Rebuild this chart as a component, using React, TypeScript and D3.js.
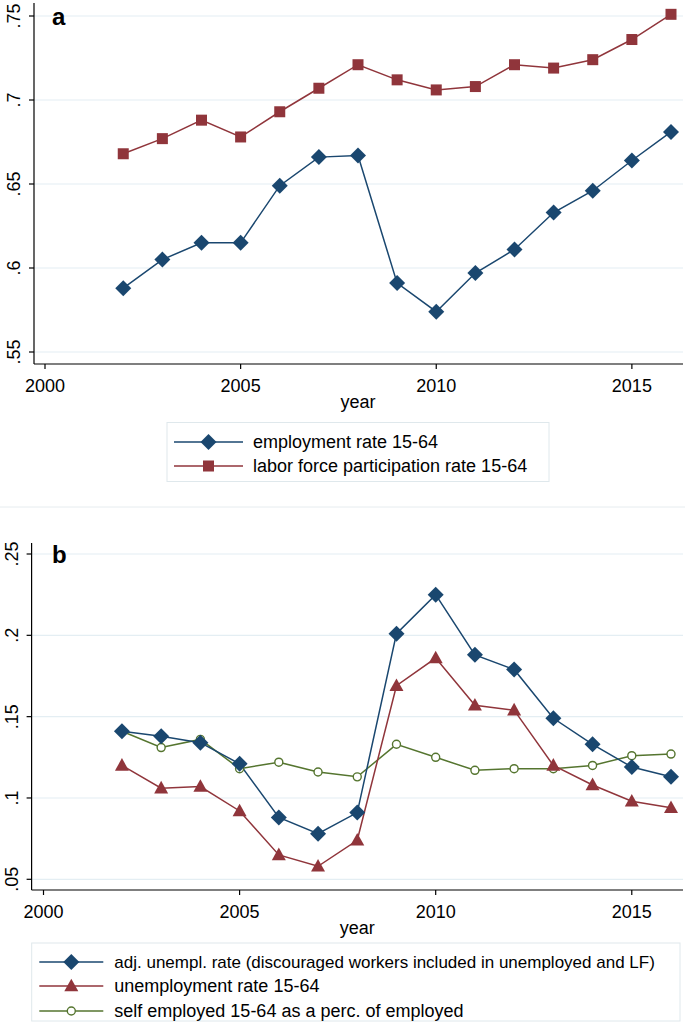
import * as d3 from "d3";
import { useEffect } from "react";

const years = [2002, 2003, 2004, 2005, 2006, 2007, 2008, 2009, 2010, 2011, 2012, 2013, 2014, 2015, 2016];
const employmentRate = [0.588, 0.605, 0.615, 0.615, 0.649, 0.666, 0.667, 0.591, 0.574, 0.597, 0.611, 0.633, 0.646, 0.664, 0.681];
const laborForceRate = [0.668, 0.677, 0.688, 0.678, 0.693, 0.707, 0.721, 0.712, 0.706, 0.708, 0.721, 0.719, 0.724, 0.736, 0.751];
const adjUnemplRate = [0.141, 0.138, 0.134, 0.121, 0.088, 0.078, 0.091, 0.201, 0.225, 0.188, 0.179, 0.149, 0.133, 0.119, 0.113];
const unemplRate = [0.120, 0.106, 0.107, 0.092, 0.065, 0.058, 0.074, 0.169, 0.186, 0.157, 0.154, 0.120, 0.108, 0.098, 0.094];
const selfEmployed = [0.141, 0.131, 0.136, 0.118, 0.122, 0.116, 0.113, 0.133, 0.125, 0.117, 0.118, 0.118, 0.120, 0.126, 0.127];

const xTicks = [2000, 2005, 2010, 2015];
const yTicksA = [0.55, 0.6, 0.65, 0.7, 0.75];
const yTicksB = [0.05, 0.1, 0.15, 0.2, 0.25];
const legendA = ["employment rate 15-64", "labor force participation rate 15-64"];
const legendB = [
  "adj. unempl. rate (discouraged workers included in unemployed and LF)",
  "unemployment rate 15-64",
  "self employed 15-64 as a perc. of employed",
];

const NAVY = "#1a476f";
const MAROON = "#90353b";
const GREEN = "#55752f";
const GRID = "#e4eef3";
const FONT = "'Liberation Sans', Arial, sans-serif";

const fmt = (v: number) => String(+v.toFixed(2)).replace(/^0/, "");

type Shape = "diamond" | "square" | "triangle" | "circle";

function Marker({ shape, x, y, color }: { shape: Shape; x: number; y: number; color: string }) {
  if (shape === "diamond") {
    const r = 8;
    return <path d={`M${x},${y - r}L${x + r},${y}L${x},${y + r}L${x - r},${y}Z`} fill={color} />;
  }
  if (shape === "square") {
    const r = 5.5;
    return <rect x={x - r} y={y - r} width={2 * r} height={2 * r} fill={color} />;
  }
  if (shape === "triangle") {
    const r = 7;
    return <path d={`M${x},${y - r * 1.05}L${x + r},${y + r * 0.75}L${x - r},${y + r * 0.75}Z`} fill={color} />;
  }
  return <circle cx={x} cy={y} r={4} fill="white" stroke={color} strokeWidth={1.4} />;
}

interface Series {
  values: number[];
  color: string;
  shape: Shape;
}

function Panel({
  label,
  xRange,
  yDomain,
  yRange,
  axisX,
  axisTop,
  axisBottom,
  yTicks,
  series,
  tickLabelY,
  yearY,
}: {
  label: string;
  xRange: [number, number];
  yDomain: [number, number];
  yRange: [number, number];
  axisX: number;
  axisTop: number;
  axisBottom: number;
  yTicks: number[];
  series: Series[];
  tickLabelY: number;
  yearY: number;
}) {
  const x = d3.scaleLinear().domain([2000, 2016]).range(xRange);
  const y = d3.scaleLinear().domain(yDomain).range(yRange);
  const right = 683;
  const line = d3
    .line<number>()
    .x((_, i) => x(years[i]))
    .y((d) => y(d));
  return (
    <g>
      {yTicks.map((t) => (
        <line key={"g" + t} x1={axisX} x2={right} y1={y(t)} y2={y(t)} stroke={GRID} strokeWidth={1.2} />
      ))}
      {series.map((s, k) => (
        <path key={"l" + k} d={line(s.values) ?? ""} fill="none" stroke={s.color} strokeWidth={1.5} />
      ))}
      {series.map((s, k) =>
        s.values.map((v, i) => <Marker key={`m${k}-${i}`} shape={s.shape} x={x(years[i])} y={y(v)} color={s.color} />)
      )}
      <line x1={axisX} x2={axisX} y1={axisTop} y2={axisBottom} stroke="#000" strokeWidth={1.2} />
      <line x1={axisX} x2={right} y1={axisBottom} y2={axisBottom} stroke="#000" strokeWidth={1.2} />
      {yTicks.map((t) => (
        <g key={"yt" + t}>
          <line x1={axisX - 5} x2={axisX} y1={y(t)} y2={y(t)} stroke="#000" strokeWidth={1.2} />
          <text
            transform={`translate(${axisX - 14},${y(t)}) rotate(-90)`}
            textAnchor="middle"
            fontSize={18}
            fontFamily={FONT}
          >
            {fmt(t)}
          </text>
        </g>
      ))}
      {xTicks.map((t) => (
        <g key={"xt" + t}>
          <line x1={x(t)} x2={x(t)} y1={axisBottom} y2={axisBottom + 5} stroke="#000" strokeWidth={1.2} />
          <text x={x(t)} y={tickLabelY} textAnchor="middle" fontSize={18} fontFamily={FONT}>
            {t}
          </text>
        </g>
      ))}
      <text x={x(2008)} y={yearY} textAnchor="middle" fontSize={18} fontFamily={FONT}>
        year
      </text>
      <text x={52} y={yRange[1] + 9} fontSize={24} fontWeight="bold" fontFamily={FONT}>
        {label}
      </text>
    </g>
  );
}

function LegendRow({
  y,
  x0,
  len,
  gap,
  shape,
  color,
  text,
  size = 18,
}: {
  y: number;
  x0: number;
  len: number;
  gap: number;
  shape: Shape;
  color: string;
  text: string;
  size?: number;
}) {
  return (
    <g>
      <line x1={x0} x2={x0 + len} y1={y} y2={y} stroke={color} strokeWidth={1.5} />
      <Marker shape={shape} x={x0 + len / 2} y={y} color={color} />
      <text x={x0 + len + gap} y={y + 6} fontSize={size} fontFamily={FONT}>
        {text}
      </text>
    </g>
  );
}

export default function App() {
  useEffect(() => {
    document.body.style.margin = "0";
  }, []);

  const seriesA: Series[] = [
    { values: laborForceRate, color: MAROON, shape: "square" },
    { values: employmentRate, color: NAVY, shape: "diamond" },
  ];
  const seriesB: Series[] = [
    { values: selfEmployed, color: GREEN, shape: "circle" },
    { values: unemplRate, color: MAROON, shape: "triangle" },
    { values: adjUnemplRate, color: NAVY, shape: "diamond" },
  ];

  return (
    <svg width={685} height={1032} style={{ display: "block", background: "#fff" }}>
      <rect width={685} height={1032} fill="#fff" />
      <Panel
        label="a"
        xRange={[45, 671]}
        yDomain={[0.55, 0.75]}
        yRange={[352, 16]}
        axisX={34}
        axisTop={3}
        axisBottom={364}
        yTicks={yTicksA}
        series={seriesA}
        tickLabelY={392}
        yearY={408}
      />
      <rect x={167} y={422.5} width={382} height={59} fill="none" stroke="#dfe8ec" strokeWidth={1} />
      <LegendRow y={442} x0={174} len={69} gap={10} shape="diamond" color={NAVY} text={legendA[0]} />
      <LegendRow y={466} x0={174} len={69} gap={10} shape="square" color={MAROON} text={legendA[1]} />
      <line x1={0} x2={685} y1={507} y2={507} stroke="#e6ecef" strokeWidth={1} />
      <Panel
        label="b"
        xRange={[43.5, 671]}
        yDomain={[0.05, 0.25]}
        yRange={[879.3, 554]}
        axisX={31.6}
        axisTop={543}
        axisBottom={890}
        yTicks={yTicksB}
        series={seriesB}
        tickLabelY={918}
        yearY={934}
      />
      <rect x={31.7} y={943} width={648.3} height={78} fill="none" stroke="#dfe8ec" strokeWidth={1} />
      <LegendRow y={962} x0={39.3} len={64} gap={11} shape="diamond" color={NAVY} text={legendB[0]} size={17} />
      <LegendRow y={986} x0={39.3} len={64} gap={11} shape="triangle" color={MAROON} text={legendB[1]} />
      <LegendRow y={1011} x0={39.3} len={64} gap={11} shape="circle" color={GREEN} text={legendB[2]} />
    </svg>
  );
}
